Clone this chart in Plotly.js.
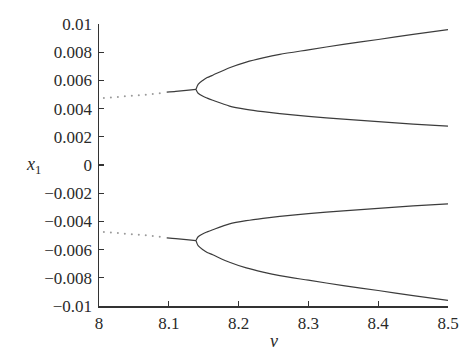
<!DOCTYPE html>
<html><head><meta charset="utf-8">
<script src="https://cdn.plot.ly/plotly-3.0.1.min.js"></script>
<style>html,body{margin:0;padding:0;background:#fff}</style>
</head><body><div id="chart" style="width:474px;height:364px"></div>
<script>
// Dotted (sampled) part before the solid branch
const dotV = [8.007, 8.017, 8.027, 8.037, 8.047, 8.057, 8.067, 8.077, 8.087];
const dotX = [0.00476, 0.00479, 0.00483, 0.00487, 0.00491, 0.00495, 0.00499, 0.00504, 0.00509];
// Solid single branch before bifurcation
const preV = [8.097, 8.11, 8.125, 8.139];
const preX = [0.00517, 0.00522, 0.00529, 0.00536];
// Branches after bifurcation
const brV = [8.139, 8.142, 8.149, 8.155, 8.163, 8.187, 8.211, 8.235, 8.259, 8.3, 8.35, 8.4, 8.45, 8.5];
const upX = [0.00536, 0.00572, 0.00601, 0.0062, 0.00637, 0.0069, 0.0073, 0.0076, 0.00785, 0.00817, 0.00855, 0.0089, 0.00926, 0.0096];
const loX = [0.00536, 0.00509, 0.00487, 0.00474, 0.00459, 0.00418, 0.00395, 0.00378, 0.00364, 0.00345, 0.00325, 0.00307, 0.0029, 0.00276];

const xTickVals = [8, 8.1, 8.2, 8.3, 8.4, 8.5];
const xTickText = ["8", "8.1", "8.2", "8.3", "8.4", "8.5"];
const yTickVals = [0.01, 0.008, 0.006, 0.004, 0.002, 0, -0.002, -0.004, -0.006, -0.008, -0.01];
const yTickText = ["0.01", "0.008", "0.006", "0.004", "0.002", "0", "\u22120.002", "\u22120.004", "\u22120.006", "\u22120.008", "\u22120.01"];

const neg = a => a.map(v => -v);
const lineStyle = {color: '#3c3c3c', width: 1.2, shape: 'spline', smoothing: 0.8};
const dotStyle = {color: '#9a9a9a', size: 2};

const traces = [
  {x: dotV, y: dotX, mode: 'markers', marker: dotStyle},
  {x: dotV, y: neg(dotX), mode: 'markers', marker: dotStyle},
  {x: preV, y: preX, mode: 'lines', line: lineStyle},
  {x: preV, y: neg(preX), mode: 'lines', line: lineStyle},
  {x: brV, y: upX, mode: 'lines', line: lineStyle},
  {x: brV, y: loX, mode: 'lines', line: lineStyle},
  {x: brV, y: neg(upX), mode: 'lines', line: lineStyle},
  {x: brV, y: neg(loX), mode: 'lines', line: lineStyle}
];

const fam = 'Liberation Serif, DejaVu Serif, serif';
const font = {family: fam, size: 17, color: '#2a2a2a'};

const layout = {
  width: 474, height: 364,
  margin: {l: 99, r: 26, t: 24, b: 58},
  showlegend: false,
  paper_bgcolor: '#fff', plot_bgcolor: '#fff',
  font: font,
  xaxis: {
    range: [8, 8.5], tickvals: xTickVals, ticktext: xTickText,
    ticks: 'inside', ticklen: 5, tickwidth: 1.3, tickcolor: '#333',
    showline: true, linecolor: '#333', linewidth: 1.5,
    showgrid: false, zeroline: false, tickfont: font, ticklabelstandoff: 1
  },
  yaxis: {
    range: [-0.01, 0.01], tickvals: yTickVals, ticktext: yTickText,
    ticks: 'inside', ticklen: 5, tickwidth: 1.3, tickcolor: '#333',
    showline: true, linecolor: '#333', linewidth: 1.5,
    showgrid: false, zeroline: false, tickfont: font, ticklabelstandoff: 2
  },
  annotations: [
    {text: '<i>v</i>', xref: 'paper', yref: 'paper', x: 0.5, y: -0.165, showarrow: false,
     font: {family: fam, size: 18, color: '#2a2a2a'}},
    {text: '<i>x</i><sub>1</sub>', xref: 'paper', yref: 'paper', x: -0.215, y: 0.5, showarrow: false,
     font: {family: fam, size: 18, color: '#2a2a2a'}}
  ]
};

Plotly.newPlot('chart', traces, layout, {staticPlot: true, displayModeBar: false});
</script></body></html>
